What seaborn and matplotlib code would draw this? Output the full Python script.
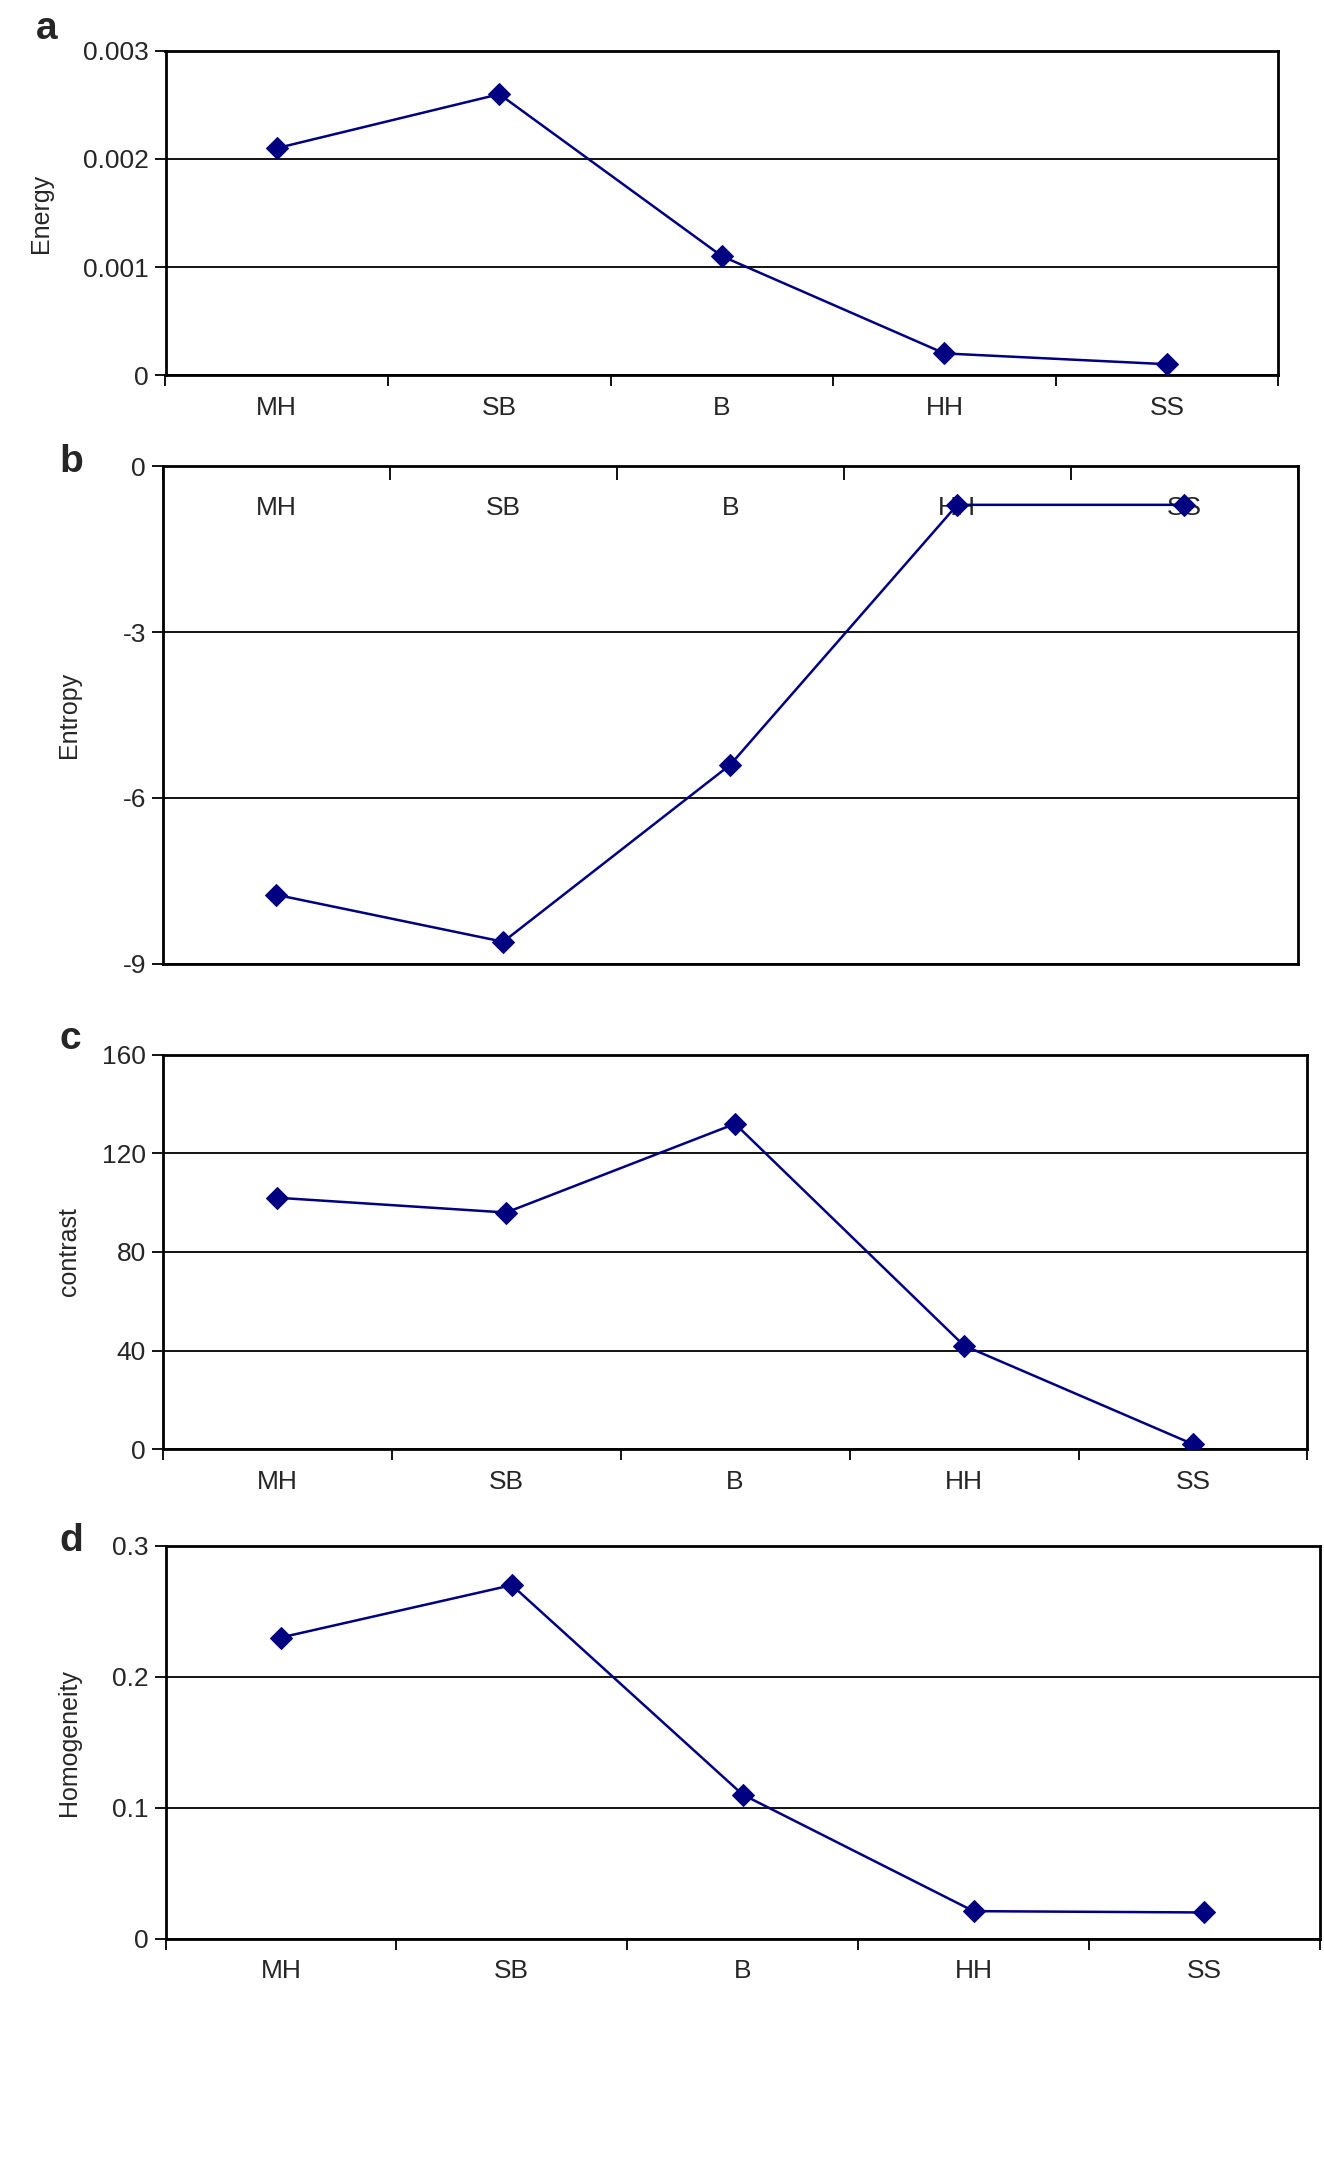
import numpy as np
import pandas as pd
import seaborn as sns
import matplotlib.pyplot as plt
from matplotlib.ticker import FixedLocator, NullFormatter

sns.set_style("white")
plt.rcParams['font.family'] = ['Liberation Sans', 'DejaVu Sans']

categories = ['MH', 'SB', 'B', 'HH', 'SS']
energy = [0.0021, 0.0026, 0.0011, 0.0002, 0.0001]
entropy = [-7.75, -8.6, -5.4, -0.7, -0.7]
contrast = [102, 96, 132, 42, 2]
homogeneity = [0.23, 0.27, 0.11, 0.021, 0.02]

panels = [
    # letter, ylabel, values, yticks, ticklabels, axes rect, letter pos, ylabel x
    ('a', 'Energy', energy, [0, 0.001, 0.002, 0.003], ['0', '0.001', '0.002', '0.003'],
     [0.125, 0.8271, 0.8405, 0.1494], (0.027, 0.9865), 0.031),
    ('b', 'Entropy', entropy, [-9, -6, -3, 0], ['-9', '-6', '-3', '0'],
     [0.1229, 0.5556, 0.8573, 0.2295], (0.045, 0.787), 0.052),
    ('c', 'contrast', contrast, [0, 40, 80, 120, 160], ['0', '40', '80', '120', '160'],
     [0.1229, 0.3319, 0.8646, 0.1818], (0.045, 0.521), 0.052),
    ('d', 'Homogeneity', homogeneity, [0, 0.1, 0.2, 0.3], ['0', '0.1', '0.2', '0.3'],
     [0.125, 0.1062, 0.8719, 0.1811], (0.045, 0.2895), 0.052),
]

navy = '#000080'
fig = plt.figure(figsize=(13.24, 21.69), dpi=100)

for letter, ylab, vals, yt, ytl, rect, lpos, ylx in panels:
    ax = fig.add_axes(rect)
    df = pd.DataFrame({'cat': categories, 'val': vals})
    sns.lineplot(data=df, x='cat', y='val', ax=ax, sort=False, color=navy,
                 marker='D', markersize=11, markeredgecolor=navy, linewidth=1.8, zorder=5)
    ax.set_xlim(-0.5, 4.5)
    ax.set_ylim(yt[0], yt[-1])
    ax.set_yticks(yt)
    ax.set_yticklabels(ytl, fontsize=19)
    ax.set_xlabel('')
    ax.set_ylabel('')
    # category boundaries as major ticks, labels on minor ticks
    ax.xaxis.set_major_locator(FixedLocator(np.arange(-0.5, 5.0, 1.0)))
    ax.xaxis.set_major_formatter(NullFormatter())
    ax.xaxis.set_minor_locator(FixedLocator(np.arange(5)))
    ax.set_xticklabels(categories, minor=True, fontsize=19)
    ax.grid(axis='y', color='black', linewidth=1.3)
    ax.grid(axis='x', visible=False)
    for sp in ax.spines.values():
        sp.set_color('black')
        sp.set_linewidth(2)
    ax.tick_params(axis='y', which='major', direction='out', length=8, width=1.3,
                   left=True, color='black', pad=4)
    if letter == 'b':
        ax.tick_params(axis='x', which='major', direction='in', length=10, width=1.3,
                       top=True, bottom=False, labeltop=False, labelbottom=False, color='black')
        ax.tick_params(axis='x', which='minor', length=0, top=True, bottom=False,
                       labeltop=True, labelbottom=False, pad=-39)
    else:
        ax.tick_params(axis='x', which='major', direction='out', length=8, width=1.3,
                       bottom=True, color='black')
        ax.tick_params(axis='x', which='minor', length=0, pad=15)
    fig.text(lpos[0], lpos[1], letter, fontsize=28, fontweight='bold', ha='left', va='center')
    fig.text(ylx, rect[1] + rect[3] / 2, ylab, fontsize=18, rotation=90, ha='center', va='center')

fig.savefig('out.png', dpi=100, facecolor='white')
